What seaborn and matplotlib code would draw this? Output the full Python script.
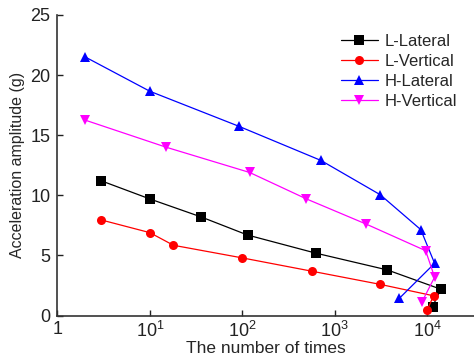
import pandas as pd
import matplotlib
matplotlib.use("Agg")
import matplotlib.pyplot as plt
import seaborn as sns

# values
l_lat_x = [3, 10, 36, 114, 620, 3700, 14000, 11400]
l_lat_y = [11.2, 9.7, 8.2, 6.7, 5.2, 3.8, 2.2, 0.75]
l_ver_x = [3, 10, 18, 100, 560, 3100, 11700, 10000]
l_ver_y = [7.95, 6.9, 5.85, 4.8, 3.7, 2.6, 1.65, 0.5]
h_lat_x = [2, 10, 91, 708, 3100, 8500, 12000, 5000]
h_lat_y = [21.5, 18.65, 15.75, 12.9, 10.05, 7.15, 4.35, 1.45]
h_ver_x = [2, 15, 120, 494, 2200, 9600, 12000, 8700]
h_ver_y = [16.25, 14.0, 11.9, 9.7, 7.6, 5.4, 3.2, 1.1]

series_names = ["L-Lateral", "L-Vertical", "H-Lateral", "H-Vertical"]
x_ticks = [1, 10, 100, 1000, 10000]
x_tick_labels = ["1", "$10^{1}$", "$10^{2}$", "$10^{3}$", "$10^{4}$"]
y_ticks = [0, 5, 10, 15, 20, 25]

sns.set_style("ticks")
plt.rcParams["font.family"] = ["Liberation Sans", "DejaVu Sans"]
plt.rcParams.update({
    "mathtext.fontset": "custom",
    "mathtext.rm": "Liberation Sans",
    "mathtext.it": "Liberation Sans:italic",
    "font.size": 11,
})

frames = []
for name, xs, ys in zip(series_names,
                        [l_lat_x, l_ver_x, h_lat_x, h_ver_x],
                        [l_lat_y, l_ver_y, h_lat_y, h_ver_y]):
    frames.append(pd.DataFrame({"times": xs, "amp": ys, "series": name}))
df = pd.concat(frames, ignore_index=True)

colors = {"L-Lateral": "black", "L-Vertical": "#ff0000",
          "H-Lateral": "#0000ff", "H-Vertical": "#ff00ff"}
markers = {"L-Lateral": "s", "L-Vertical": "o",
           "H-Lateral": "^", "H-Vertical": "v"}

fig = plt.figure(figsize=(4.74, 3.62), dpi=100)
ax = fig.add_axes([0.121, 0.128, 0.879, 0.831])

for name in series_names:
    sub = df[df["series"] == name]
    sns.lineplot(data=sub, x="times", y="amp", sort=False, estimator=None,
                 color=colors[name], marker=markers[name], markersize=6.5,
                 markeredgewidth=0, linewidth=0.9, label=name, ax=ax)

ax.set_xscale("log")
ax.set_xlim(1, 3.2e4)
ax.set_ylim(0, 25)
ax.set_xticks(x_ticks)
ax.set_xticklabels(x_tick_labels)
ax.minorticks_off()
ax.set_yticks(y_ticks)
ax.tick_params(direction="in", length=4, width=1, labelsize=13, colors="#222222")
ax.tick_params(axis="y", pad=5)
ax.set_xlabel("The number of times", fontsize=12.5, labelpad=0)
ax.set_ylabel("Acceleration amplitude (g)", fontsize=11.5, labelpad=4)
for side in ["top", "right"]:
    ax.spines[side].set_visible(False)
for side in ["left", "bottom"]:
    ax.spines[side].set_linewidth(1.2)
    ax.spines[side].set_color("#333333")

ax.legend(loc="upper left", bbox_to_anchor=(0.665, 0.96), frameon=False,
          fontsize=12, handlelength=2.2, handletextpad=0.4, labelspacing=0.3,
          borderaxespad=0)

fig.savefig("out.png", dpi=100)
